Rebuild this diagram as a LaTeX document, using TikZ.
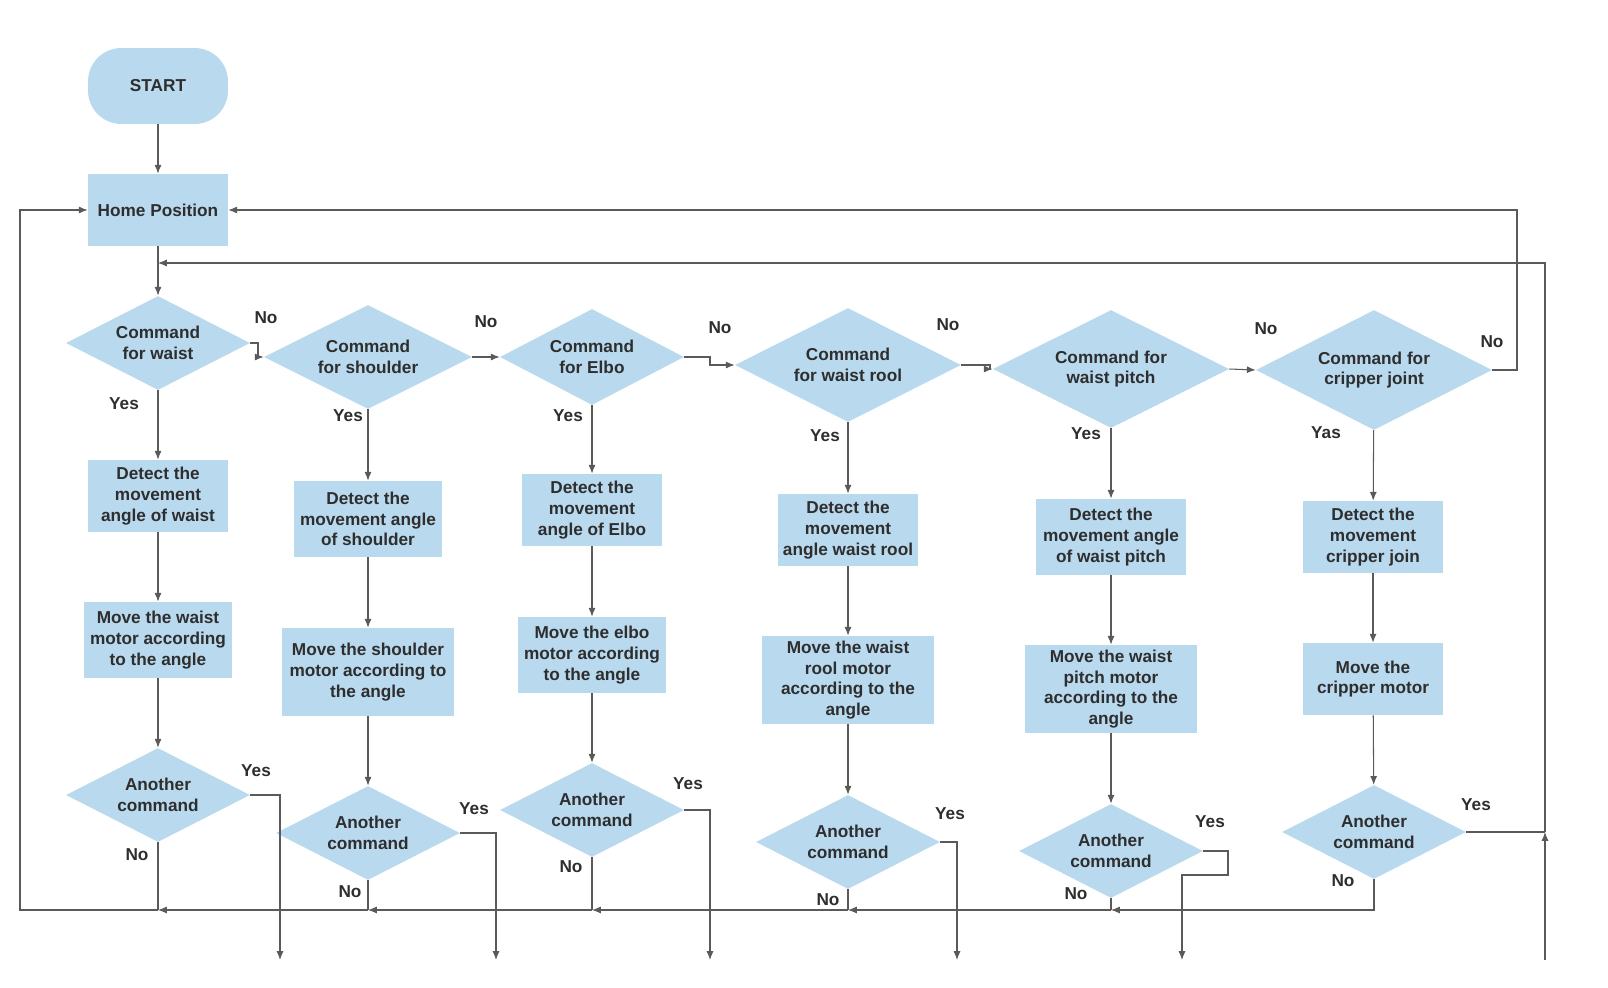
\documentclass[tikz,border=0pt]{standalone}
\usepackage{fontspec}
\setmainfont{Liberation Sans}
\usetikzlibrary{shapes.geometric,arrows.meta}
\definecolor{fillb}{HTML}{B9D9EF}
\definecolor{txt}{HTML}{2E2E2E}
\definecolor{ln}{HTML}{5A5A5A}
\newcommand{\dd}[6]{\node[dia, minimum width=#4*0.02cm, minimum height=#5*0.02cm] (#1) at (#2,#3) {#6};}
\newcommand{\bx}[6]{\node[box, minimum width=#4*0.02cm, minimum height=#5*0.02cm] (#1) at (#2,#3) {#6};}
\begin{document}
\begin{tikzpicture}[x=0.02cm,y=-0.02cm,
  every node/.style={font=\fontsize{9.8}{11.8}\selectfont\bfseries, text=txt},
  box/.style={draw=none, fill=fillb, align=center, inner sep=1pt},
  dia/.style={diamond, fill=fillb, align=center, inner sep=0pt, aspect=2},
  term/.style={fill=fillb, rounded corners=19pt, align=center},
  conn/.style={draw=ln, line width=0.6pt, -{Latex[length=5pt,width=4pt]}},
  plain/.style={draw=ln, line width=0.6pt}]
\clip (0,0) rectangle (1608,987);
\useasboundingbox (0,0) rectangle (1608,987);
\node[term, minimum width=2.8cm, minimum height=1.52cm] (start) at (158,86) {START};
\node[box, minimum width=2.8cm, minimum height=1.44cm] (home) at (158,210) {Home Position};
\dd{d1}{158}{343}{184}{94}{Command\\for waist}
\dd{d2}{368}{357}{208}{104}{Command\\for shoulder}
\dd{d3}{592}{357}{184}{96}{Command\\for Elbo}
\dd{d4}{848}{365}{226}{114}{Command\\for waist rool}
\dd{d5}{1111}{369}{236}{118}{Command for\\waist pitch}
\dd{d6}{1374}{370}{236}{120}{Command for\\cripper joint}
\dd{a1}{158}{795}{184}{94}{Another\\command}
\dd{a2}{368}{833}{184}{94}{Another\\command}
\dd{a3}{592}{810}{184}{94}{Another\\command}
\dd{a4}{848}{842}{184}{94}{Another\\command}
\dd{a5}{1111}{851}{184}{94}{Another\\command}
\dd{a6}{1374}{832}{184}{94}{Another\\command}
\bx{b1}{158}{496}{140}{72}{Detect the\\movement\\angle of waist}
\bx{b2}{368}{519}{148}{76}{Detect the\\movement angle\\of shoulder}
\bx{b3}{592}{510}{140}{72}{Detect the\\movement\\angle of Elbo}
\bx{b4}{848}{530}{140}{72}{Detect the\\movement\\angle waist rool}
\bx{b5}{1111}{537}{150}{76}{Detect the\\movement angle\\of waist pitch}
\bx{b6}{1373}{537}{140}{72}{Detect the\\movement\\cripper join}
\bx{c1}{158}{640}{148}{76}{Move the waist\\motor according\\to the angle}
\bx{c2}{368}{672}{172}{88}{Move the shoulder\\motor according to\\the angle}
\bx{c3}{592}{655}{148}{76}{Move the elbo\\motor according\\to the angle}
\bx{c4}{848}{680}{172}{88}{Move the waist\\rool motor\\according to the\\angle}
\bx{c5}{1111}{689}{172}{88}{Move the waist\\pitch motor\\according to the\\angle}
\bx{c6}{1373}{679}{140}{72}{Move the\\cripper motor}
\draw[conn] (start) -- (home);
\draw[conn] (home) -- (d1);
\foreach \i in {1,...,6}{
  \draw[conn] (d\i) -- (b\i);
  \draw[conn] (b\i) -- (c\i);
  \draw[conn] (c\i) -- (a\i);
}
\draw[conn] (d1.east) -- (258,343) |- (d2.west);
\draw[conn] (d2.east) -- (d3.west);
\draw[conn] (d3.east) -- (710,357) |- (d4.west);
\draw[conn] (d4.east) -- (990,365) |- (d5.west);
\draw[conn] (d5.east) -- (d6.west);
\draw[conn] (d6.east) -- (1517,370) |- (home.east);
\coordinate (n1) at (158,910);
\coordinate (n2) at (368,910);
\coordinate (n3) at (592,910);
\coordinate (n4) at (848,910);
\coordinate (n5) at (1111,910);
\draw[plain] (a6.south) |- (1200,910);
\draw[conn] (1200,910) -- (n5);
\draw[conn] (n5) -- (n4);
\draw[conn] (n4) -- (n3);
\draw[conn] (n3) -- (n2);
\draw[conn] (n2) -- (n1);
\draw[conn] (n1) -- (20,910) |- (home.west);
\foreach \i in {1,...,5}{\draw[plain] (a\i.south) -- (n\i);}
\coordinate (y1) at (280,960);
\coordinate (y2) at (496,960);
\coordinate (y3) at (710,960);
\coordinate (y4) at (957,960);
\coordinate (y5) at (1182,960);
\draw[conn] (a1.east) -| (y1);
\draw[conn] (a2.east) -| (y2);
\draw[conn] (a3.east) -| (y3);
\draw[conn] (a4.east) -| (y4);
\draw[conn] (a5.east) -- (1228,851) -- (1228,875) -- (1182,875) -- (y5);
\coordinate (r0) at (1545,960);
\coordinate (r1) at (1545,832);
\coordinate (r2) at (158,263);
\draw[conn] (r0) -- (r1);
\draw[plain] (a6.east) -- (r1);
\draw[conn] (r1) -- (1545,263) -- (r2);
\node at (266,318) {No}; \node at (486,322) {No}; \node at (720,328) {No};
\node at (948,325) {No}; \node at (1266,329) {No}; \node at (1492,342) {No};
\node at (124,404) {Yes}; \node at (348,416) {Yes}; \node at (568,416) {Yes};
\node at (825,436) {Yes}; \node at (1086,434) {Yes}; \node at (1326,433) {Yas};
\node at (256,771) {Yes}; \node at (474,809) {Yes}; \node at (688,784) {Yes};
\node at (950,814) {Yes}; \node at (1210,822) {Yes}; \node at (1476,805) {Yes};
\node at (137,855) {No}; \node at (350,892) {No}; \node at (571,867) {No};
\node at (828,900) {No}; \node at (1076,894) {No}; \node at (1343,881) {No};
\end{tikzpicture}
\end{document}
